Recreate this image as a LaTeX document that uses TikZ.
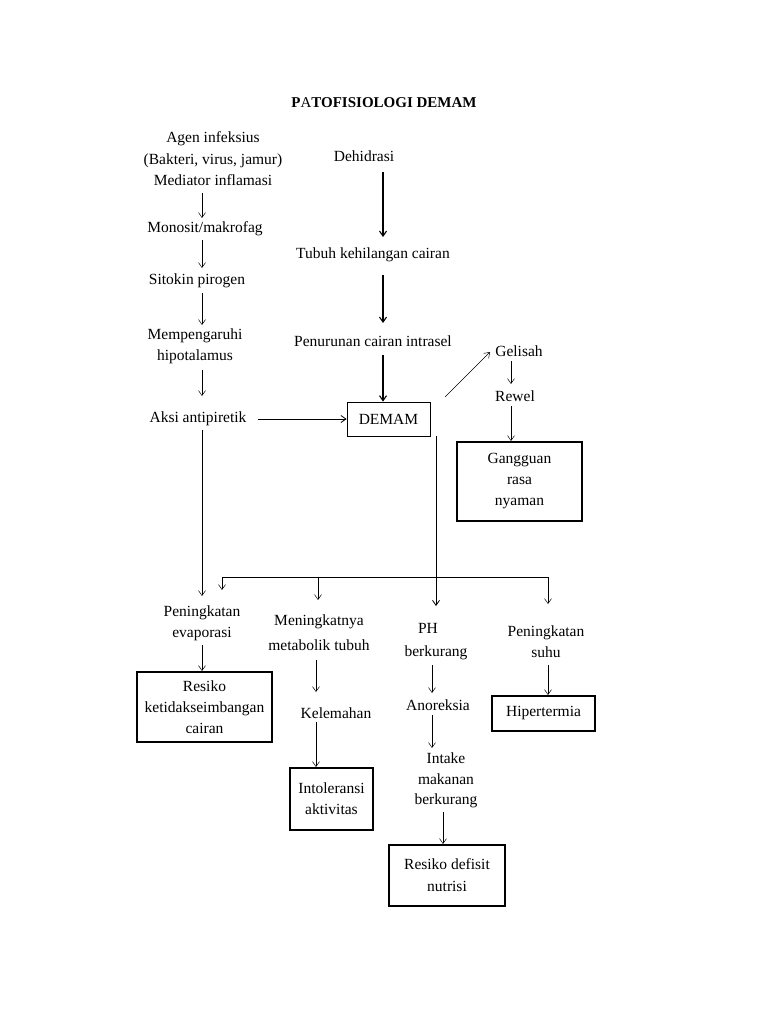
\documentclass[tikz,border=0pt]{standalone}
\usepackage{fontspec}
\setmainfont{Liberation Serif}
\usetikzlibrary{arrows.meta}
\begin{document}
\begin{tikzpicture}[x=1pt,y=-1pt,
 t/.style={font=\fontsize{15.5}{18}\selectfont,inner sep=0pt,align=center},
 a/.style={-{Straight Barb[length=5pt,width=7pt]},line width=0.5pt},
 ab/.style={-{Straight Barb[length=5pt,width=7pt]},line width=1.1pt},
 bx/.style={draw,line width=2pt,inner sep=0pt}]
\useasboundingbox (0,0) rectangle (768,1024);
\node[t,font=\bfseries\fontsize{15}{18}\selectfont] (title) at (384,103) {P{\mdseries A}TOFISIOLOGI DEMAM};
% left column
\node[t,font=\fontsize{15.5}{21.5}\selectfont] (agen) at (213,159) {Agen infeksius\\(Bakteri, virus, jamur)\\Mediator inflamasi};
\node[t] (mono) at (205,229) {Monosit/makrofag};
\node[t] (sito) at (197,281) {Sitokin pirogen};
\node[t,font=\fontsize{15.5}{21}\selectfont] (memp) at (195,346) {Mempengaruhi\\hipotalamus};
\node[t] (aksi) at (198,419) {Aksi antipiretik};
\coordinate (c1) at (202,193); \coordinate (c1e) at (202,218);
\draw[a] (c1) -- (c1e);
\coordinate (c2) at (202,240); \coordinate (c2e) at (202,268);
\draw[a] (c2) -- (c2e);
\coordinate (c3) at (202,293); \coordinate (c3e) at (202,325);
\draw[a] (c3) -- (c3e);
\coordinate (c4) at (202,370); \coordinate (c4e) at (202,396);
\draw[a] (c4) -- (c4e);
% middle
\node[t] (dehi) at (364,156) {Dehidrasi};
\node[t] (tubuh) at (373,255) {Tubuh kehilangan cairan};
\node[t] (penu) at (373,341) {Penurunan cairan intrasel};
\node[draw,line width=0.8pt,minimum width=83pt,minimum height=34pt,t] (demam) at (388.5,419) {DEMAM};
\coordinate (m1) at (383,172); \coordinate (m1e) at (383,237);
\draw[ab] (m1) -- (m1e);
\coordinate (m2) at (383,275); \coordinate (m2e) at (383,323);
\draw[ab] (m2) -- (m2e);
\coordinate (m3) at (383,355);
\draw[ab] (m3) -- (demam.north -| m3);
\coordinate (ax) at (258,419);
\draw[ab,line width=0.8pt] (ax) -- (demam.west);
% right top
\node[t] (gel) at (519,351) {Gelisah};
\node[t] (rew) at (515,396) {Rewel};
\node[bx,minimum width=125pt,minimum height=79pt,t,font=\fontsize{15.5}{21}\selectfont] (gang) at (519.5,481.5) {Gangguan\\rasa\\nyaman};
\coordinate (g0) at (445,397);
\draw[a] (g0) -- (490,352);
\coordinate (g1) at (511,361); \coordinate (g1e) at (511,384);
\draw[a] (g1) -- (g1e);
\coordinate (g2) at (511,406);
\draw[a] (g2) -- (gang.north -| g2);
% distribution
\coordinate (d0) at (436,436); \coordinate (d0e) at (436,606);
\draw[a,line width=0.8pt] (d0) -- (d0e);
\coordinate (h1) at (222,577); \coordinate (h2) at (548,577);
\draw[line width=0.8pt] (h1) -- (h2);
\coordinate (h1e) at (222,590); \draw[a] (h1) -- (h1e);
\coordinate (h3) at (318,577); \coordinate (h3e) at (318,600); \draw[a] (h3) -- (h3e);
\coordinate (h2e) at (548,604); \draw[a] (h2) -- (h2e);
\coordinate (l0) at (202,430); \coordinate (l0e) at (202,596);
\draw[a] (l0) -- (l0e);
% branch 1
\node[t,font=\fontsize{15.5}{21}\selectfont] (pe) at (202,623.5) {Peningkatan\\evaporasi};
\node[bx,minimum width=135pt,minimum height=70pt,t,font=\fontsize{15.5}{21}\selectfont] (res1) at (204.5,707) {Resiko\\ketidakseimbangan\\cairan};
\coordinate (b1) at (202,645); \draw[a] (b1) -- (res1.north -| b1);
% branch 2
\node[t,font=\fontsize{15.5}{25}\selectfont] (meta) at (319,632.5) {Meningkatnya\\metabolik tubuh};
\node[t] (kel) at (336,713) {Kelemahan};
\node[bx,minimum width=83pt,minimum height=62pt,t,font=\fontsize{15.5}{21}\selectfont] (into) at (331.5,799) {Intoleransi\\aktivitas};
\coordinate (b2) at (316,660); \coordinate (b2e) at (316,692); \draw[a] (b2) -- (b2e);
\coordinate (b3) at (316,722); \draw[a] (b3) -- (into.north -| b3);
% branch 3
\node[t,font=\fontsize{15.5}{23}\selectfont] (ph) at (428,641.5) {PH\\\hspace*{16pt}berkurang};
\node[t] (ano) at (438,705) {Anoreksia};
\node[t,font=\fontsize{15.5}{20.5}\selectfont] (intk) at (446,780.5) {Intake\\makanan\\berkurang};
\node[bx,minimum width=116pt,minimum height=61pt,t,font=\fontsize{15.5}{22}\selectfont] (res2) at (447,875.5) {Resiko defisit\\nutrisi};
\coordinate (b4) at (432,665); \coordinate (b4e) at (432,693); \draw[a] (b4) -- (b4e);
\coordinate (b5) at (432,715); \coordinate (b5e) at (432,748); \draw[a] (b5) -- (b5e);
\coordinate (b6) at (443,812); \draw[a] (b6) -- (res2.north -| b6);
% branch 4
\node[t,font=\fontsize{15.5}{21}\selectfont] (suhu) at (546,641.5) {Peningkatan\\suhu};
\node[bx,minimum width=103pt,minimum height=35pt,t] (hip) at (543.5,713.5) {Hipertermia};
\coordinate (b7) at (548,665); \draw[a] (b7) -- (hip.north -| b7);
\end{tikzpicture}
\end{document}
